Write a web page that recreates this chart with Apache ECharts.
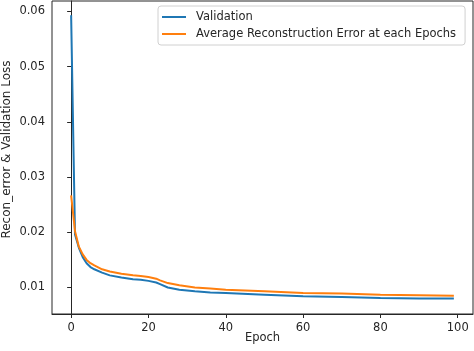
<!DOCTYPE html>
<html>
<head>
<meta charset="utf-8">
<script src="https://cdn.jsdelivr.net/npm/echarts@6/dist/echarts.min.js"></script>
<style>
  html, body { margin: 0; padding: 0; background: #fff; }
  #chart { width: 474px; height: 351px; }
</style>
</head>
<body>
<div id="chart"></div>
<script>
// values
var epochs = [0, 1, 2, 3, 4, 5, 6, 8, 10, 13, 16, 18, 20, 22, 23, 25, 28, 32, 36, 40, 50, 60, 70, 80, 90, 99];
var validation = [0.0593, 0.0196, 0.0172, 0.0155, 0.0144, 0.0137, 0.0133, 0.0127, 0.0122, 0.0118, 0.0115, 0.0114, 0.0112, 0.0109, 0.0106, 0.0100, 0.0096, 0.0093, 0.0091, 0.0090, 0.0087, 0.0084, 0.0083, 0.0081, 0.0080, 0.0080];
var recon = [0.0267, 0.0202, 0.0174, 0.0160, 0.0150, 0.0144, 0.0140, 0.0133, 0.0129, 0.0125, 0.0122, 0.0121, 0.0119, 0.0116, 0.0113, 0.0108, 0.0104, 0.0100, 0.0098, 0.0096, 0.0093, 0.0090, 0.0089, 0.0087, 0.0086, 0.0085];
var xTicks = [0, 20, 40, 60, 80, 100];
var yTicks = [0.01, 0.02, 0.03, 0.04, 0.05, 0.06];

function pairs(xs, ys) {
    var out = [];
    for (var i = 0; i < xs.length; i++) out.push([xs[i], ys[i]]);
    return out;
}

var font = 'DejaVu Sans';
var ink = '#262626';

var myChart = echarts.init(document.getElementById('chart'));
var option = {
    animation: false,
    backgroundColor: '#fff',
    grid: {
        left: 52, right: 1, top: 1, bottom: 37,
        outerBoundsMode: 'none',
        containLabel: false,
        show: true, borderColor: ink, borderWidth: 1, backgroundColor: 'transparent'
    },
    legend: {
        left: 158, top: 6,
        orient: 'vertical',
        backgroundColor: '#fff',
        borderColor: '#d0d0d0', borderWidth: 1, borderRadius: 3,
        padding: [5, 9, 5, 4],
        itemGap: 5,
        itemWidth: 24, itemHeight: 2,
        icon: 'rect',
        textStyle: { fontFamily: font, fontSize: 11.5, color: ink, padding: [0, 0, 0, 5] },
        data: ['Validation', 'Average Reconstruction Error at each Epochs']
    },
    xAxis: {
        type: 'value',
        min: -4.95, max: 103.95,
        name: 'Epoch', nameLocation: 'middle', nameGap: 18, nameMoveOverlap: false,
        nameTextStyle: { fontFamily: font, fontSize: 11.5, color: ink },
        splitLine: { show: false },
        axisLine: { show: true, lineStyle: { color: ink } },
        axisTick: { show: true, length: 4, customValues: xTicks, lineStyle: { color: ink } },
        axisLabel: { customValues: xTicks, fontFamily: font, fontSize: 11.5, color: ink, margin: 8 }
    },
    yAxis: {
        type: 'value',
        min: 0.0052, max: 0.0619,
        name: 'Recon_error & Validation Loss', nameLocation: 'middle', nameGap: 39, nameMoveOverlap: false,
        nameTextStyle: { fontFamily: font, fontSize: 12, color: ink, padding: [0, 0, 0, 16] },
        splitLine: { show: false },
        axisLine: { show: true, lineStyle: { color: ink } },
        axisTick: { show: true, length: 4, customValues: yTicks, lineStyle: { color: ink } },
        axisLabel: {
            customValues: yTicks, fontFamily: font, fontSize: 11.5, color: ink, margin: 7,
            formatter: function (v) { return v.toFixed(2); }
        }
    },
    series: [
        {
            name: 'Validation', type: 'line', showSymbol: false, symbol: 'none',
            data: pairs(epochs, validation),
            itemStyle: { color: '#1f77b4' },
            lineStyle: { color: '#1f77b4', width: 2 }
        },
        {
            name: 'Average Reconstruction Error at each Epochs', type: 'line', showSymbol: false, symbol: 'none',
            data: pairs(epochs, recon),
            itemStyle: { color: '#ff7f0e' },
            lineStyle: { color: '#ff7f0e', width: 2 }
        }
    ]
};
myChart.setOption(option);
</script>
</body>
</html>
